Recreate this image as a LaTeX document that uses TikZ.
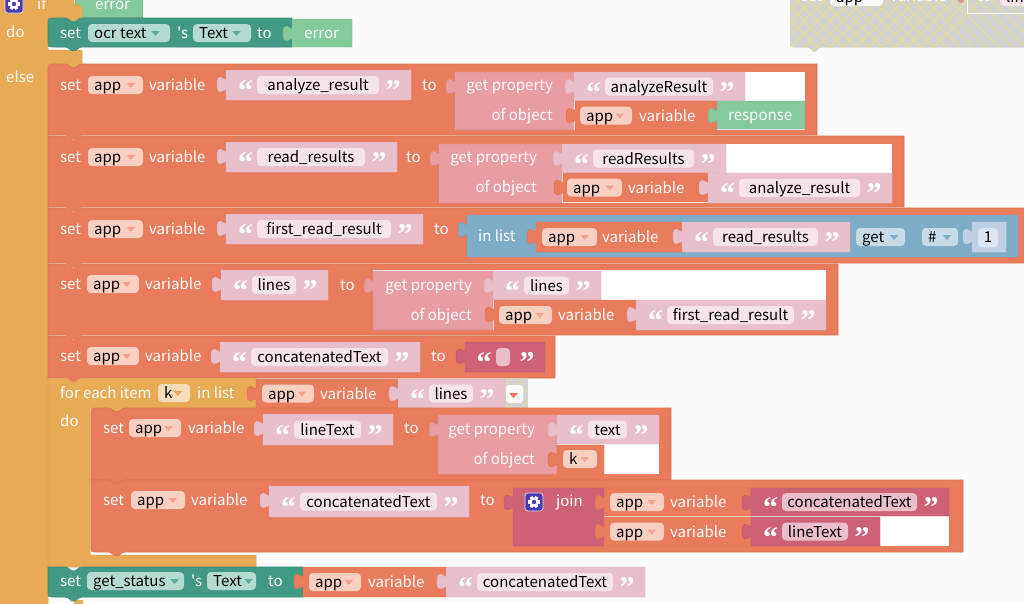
\documentclass[tikz,border=0pt]{standalone}
\usepackage{fontspec}
\newfontfamily\uif{Noto Sans CJK SC}
\newfontfamily\qf{Liberation Serif}
\definecolor{bgc}{HTML}{FBFBFB}
\definecolor{ctl}{HTML}{E8AA55}
\definecolor{ctle}{HTML}{DDA351}
\definecolor{ora}{HTML}{E97C5C}
\definecolor{orae}{HTML}{D9744F}
\definecolor{tea}{HTML}{429A84}
\definecolor{teae}{HTML}{3A8A76}
\definecolor{grn}{HTML}{85CA9C}
\definecolor{grne}{HTML}{76BA8C}
\definecolor{pro}{HTML}{E99CA2}
\definecolor{proe}{HTML}{D38C92}
\definecolor{stra}{HTML}{E9BFCB}
\definecolor{stre}{HTML}{DDB0BC}
\definecolor{strp}{HTML}{F6E4E9}
\definecolor{dkp}{HTML}{CD6277}
\definecolor{dkpe}{HTML}{B9586B}
\definecolor{dkq}{HTML}{EBBECB}
\definecolor{blu}{HTML}{7FADC7}
\definecolor{blue2}{HTML}{7299B2}
\definecolor{blp}{HTML}{C6DCE8}
\definecolor{num}{HTML}{BFD0E6}
\definecolor{nump}{HTML}{DDE5F1}
\definecolor{orp}{HTML}{F8CFC1}
\definecolor{ora2}{HTML}{F0A48E}
\definecolor{tep}{HTML}{B5DACF}
\definecolor{tea2}{HTML}{5EAE99}
\definecolor{kp}{HTML}{F7DDB9}
\definecolor{hgr}{HTML}{D2D2D2}
\definecolor{hye}{HTML}{E6E08C}
\definecolor{purp}{HTML}{4A3BB0}
\tikzset{
  lab/.style={font=\uif\fontsize{15}{18}\selectfont,text=white,inner sep=0pt,text height=13pt,text depth=2pt},
  blk/.style={font=\uif\fontsize{15}{18}\selectfont,text=black,inner sep=0pt,text height=13pt,text depth=2pt},
  qt/.style={font=\qf\bfseries\fontsize{30}{30}\selectfont,text=white,inner sep=0pt,anchor=base},
}
\newcounter{nn}
% white label, west / east anchored
\newcommand{\lb}[3]{\stepcounter{nn}\node[lab,anchor=west] (n\the\value{nn}) at (#1,#2) {#3};}
\newcommand{\rb}[3]{\stepcounter{nn}\node[lab,anchor=east] (n\the\value{nn}) at (#1,#2) {#3};}
% statement block: fill, edge, x1,y1,x2,y2, radius top, radius bottom
\newcommand{\stmt}[8]{\fill[#1,draw=#2,line width=.6pt]
  (#3,#4+#7) .. controls (#3,#4) .. (#3+#7,#4) -- (#3+17,#4)
  .. controls (#3+21,#4) and (#3+22,#4+4) .. (#3+25.5,#4+4)
  .. controls (#3+29,#4+4) and (#3+30,#4) .. (#3+34,#4)
  -- (#5,#4) -- (#5,#6) -- (#3+34,#6)
  .. controls (#3+30,#6) and (#3+29,#6+4) .. (#3+25.5,#6+4)
  .. controls (#3+22,#6+4) and (#3+21,#6) .. (#3+17,#6)
  -- (#3+#8,#6) .. controls (#3,#6) .. (#3,#6-#8) -- cycle;}
% value block with left tab: fill, edge, x1,y1,x2,y2
\newcommand{\val}[6]{\fill[#1,draw=#2,line width=.4pt]
  (#3,#4) -- (#5,#4) -- (#5,#6) -- (#3,#6) -- (#3,#4+19.5)
  .. controls (#3-2,#4+19.5) and (#3-3,#4+22) .. (#3-6,#4+22)
  .. controls (#3-8,#4+22) and (#3-9,#4+20) .. (#3-9,#4+15)
  .. controls (#3-9,#4+9) and (#3-8,#4+7) .. (#3-6,#4+7)
  .. controls (#3-3,#4+7) and (#3-2,#4+10) .. (#3,#4+10) -- cycle;}
% dropdown pill: [arrow inset], x1,x2,yc,text,bg,arrow
\newcommand{\dd}[7][12.2]{\fill[#6,rounded corners=4pt] (#2,#4-9) rectangle (#3,#4+9);
  \stepcounter{nn}\node[blk,anchor=west] (n\the\value{nn}) at (#2+6,#4) {#5};
  \fill[#7] (#3-#1-4.3,#4-2) -- (#3-#1+4.3,#4-2) -- (#3-#1,#4+3) -- cycle;}
% string block: x1,y1,x2,y2,fill,edge,pill,text
\newcommand{\strb}[8]{\val{#5}{#6}{#1}{#2}{#3}{#4}
  \fill[#7,rounded corners=4pt] (#1+31,{(#2+#4)/2-9}) rectangle (#3-32,{(#2+#4)/2+9});
  \stepcounter{nn}\node[blk] (n\the\value{nn}) at ({(#1+#3-1)/2},{(#2+#4)/2}) {#8};
  \stepcounter{nn}\node[qt] (n\the\value{nn}) at (#1+19.5,{(#2+#4)/2+15.5}) {“};
  \stepcounter{nn}\node[qt] (n\the\value{nn}) at (#3-18,{(#2+#4)/2+15.5}) {”};}
% app variable block: x1,y1,x2,y2,pill x1,pill x2,variable x
\newcommand{\appb}[7]{\val{ora}{orae}{#1}{#2}{#3}{#4}
  \pgfmathsetmacro\yc{(#2+#4)/2}
  \dd{#5}{#6}{\yc}{app}{orp}{ora2}
  \lb{#7}{\yc}{variable}}
% gear icon
\newcommand{\gear}[2]{\begin{scope}[shift={(#1,#2)}]
  \fill[purp,draw=white!80!purp,line width=.7pt,rounded corners=3pt] (-9,-9) rectangle (9,9);
  \foreach \a in {0,60,120}{\fill[white,rotate=\a] (-6,-1.6) rectangle (6,1.6);}
  \fill[white] (0,0) circle (4.6);
  \fill[purp] (0,0) circle (2.2);
\end{scope}}
% hatch lines for the area currently clipped
\newcommand{\hatchlines}[2]{\foreach \i in {#1,#2,...,1060}{
   \draw[hye,line width=.9pt] (\i,-70) -- (\i+500,430);
   \draw[hye,line width=.9pt] (\i,-70) -- (\i-500,430);}}
\begin{document}
\begin{tikzpicture}[x=1pt,y=-1pt]
\useasboundingbox (0,0) rectangle (1024,603);
\clip (0,0) rectangle (1024,603);
\fill[bgc] (0,0) rectangle (1024,603);

% disabled hatched block at the top right
\begin{scope}
 \clip (790,-5) -- (1030,-5) -- (1030,47.5) -- (822,47.5)
   .. controls (818,47.5) and (817,52) .. (814.5,52) .. controls (812,52) and (811,47.5) .. (807,47.5)
   -- (796,47.5) .. controls (790,47.5) .. (790,41) -- cycle;
 \fill[hgr] (780,-5) rectangle (1030,60);
 \hatchlines{700}{713}
\end{scope}
\lb{801}{-4}{set}
\dd{830}{883}{-3}{app}{white!85!hgr}{ora2}
\lb{890}{-4}{variable}
\fill[orae!60!hgr] (961,0) circle (3);
\draw[white,line width=.9pt] (967,-5) -- (967,13) -- (1030,13);
\stepcounter{nn}\node[qt] (n\the\value{nn}) at (984,12.5) {“};
\fill[strp,rounded corners=4pt] (1000,-12) rectangle (1040,6);
\stepcounter{nn}\node[blk,anchor=west] (n\the\value{nn}) at (1006,-3) {lineText};

% main control column
\fill[grn,draw=grne,line width=.4pt] (75,-5) rectangle (142,17);
\fill[ctl,draw=ctle,line width=.5pt] (-2,-5) -- (74,-5) -- (74,5)
   .. controls (78,4) and (82,5) .. (82,9) -- (82,18)
   .. controls (78,18) and (77,22) .. (73.5,22) .. controls (70,22) and (69,18) .. (65,18)
   -- (48,18) -- (48,50) -- (82,50) -- (82,64)
   .. controls (78,64) and (77,68) .. (73.5,68) .. controls (70,68) and (69,64) .. (65,64)
   -- (48,64) -- (48,606) -- (-2,606) -- cycle;
\fill[ctl] (74,600) rectangle (83,606);
\lb{95}{4}{error}
\gear{14}{4}
\lb{37}{4}{if}
\lb{6}{32}{do}
\lb{6}{77}{else}

% first branch
\stmt{tea}{teae}{48}{18}{292}{47}{6}{6}
\lb{60}{33}{set}
\dd[14.5]{88}{170}{33}{ocr text}{tep}{tea2}
\lb{177}{33}{'s}
\dd[14.5]{193}{251}{33}{Text}{tep}{tea2}
\lb{257}{33}{to}
\val{grn}{grne}{292}{19}{352}{47}
\lb{304}{33}{error}

% set analyze_result
\stmt{ora}{orae}{48}{64}{817}{135}{6}{0}
\fill[white] (455,72) rectangle (805,130);
\lb{60}{85}{set}
\dd{88}{143}{85}{app}{orp}{ora2}
\lb{149}{85}{variable}
\strb{226}{70}{411}{100}{stra}{stre}{strp}{analyze\_result}
\lb{422}{85}{to}
\val{pro}{proe}{455}{72}{574}{130}
\rb{553}{85}{get property}
\rb{553}{115}{of object}
\strb{574}{72}{745}{101}{stra}{stre}{strp}{analyzeResult}
\appb{575}{101}{717}{130}{580}{632}{639}
\val{grn}{grne}{717}{101}{805}{129}
\lb{728}{115}{response}

% set read_results
\stmt{ora}{orae}{48}{136}{904}{207}{0}{0}
\fill[white] (439,144) rectangle (892,203);
\lb{60}{157}{set}
\dd{88}{143}{157}{app}{orp}{ora2}
\lb{149}{157}{variable}
\strb{226}{142}{397}{172}{stra}{stre}{strp}{read\_results}
\lb{406}{157}{to}
\val{pro}{proe}{439}{144}{562}{203}
\rb{537}{157}{get property}
\rb{537}{187}{of object}
\strb{562}{144}{726}{173}{stra}{stre}{strp}{readResults}
\appb{563}{173}{708}{202}{567}{622}{628}
\strb{708}{173}{892}{203}{stra}{stre}{strp}{analyze\_result}

% set first_read_result
\stmt{ora}{orae}{48}{208}{1030}{263}{0}{0}
\lb{60}{229}{set}
\dd{88}{143}{229}{app}{orp}{ora2}
\lb{149}{229}{variable}
\strb{226}{214}{423}{244}{stra}{stre}{strp}{first\_read\_result}
\lb{434}{229}{to}
\val{blu}{blue2}{467}{215}{1018}{257}
\lb{478}{236}{in list}
\appb{536}{222}{682}{252}{542}{597}{602}
\strb{682}{222}{850}{252}{stra}{stre}{strp}{read\_results}
\dd[11]{856}{905}{237}{get}{blp}{blu}
\dd[11]{922}{958}{237}{\#}{blp}{blu}
\val{num}{num}{972}{222}{1006}{252}
\fill[nump,rounded corners=4pt] (978,228) rectangle (998,247);
\stepcounter{nn}\node[blk] (n\the\value{nn}) at (988,237) {1};

% set lines
\stmt{ora}{orae}{48}{264}{838}{335}{0}{0}
\fill[white] (373,270) rectangle (826,330);
\lb{60}{284}{set}
\dd{87}{139}{284}{app}{orp}{ora2}
\lb{145}{284}{variable}
\strb{221}{270}{328}{300}{stra}{stre}{strp}{lines}
\lb{340}{285}{to}
\val{pro}{proe}{373}{271}{493}{330}
\rb{472}{285}{get property}
\rb{472}{315}{of object}
\strb{493}{271}{601}{300}{stra}{stre}{strp}{lines}
\appb{494}{300}{636}{330}{499}{552}{558}
\strb{636}{300}{826}{330}{stra}{stre}{strp}{first\_read\_result}

% set concatenatedText
\stmt{ora}{orae}{48}{336}{555}{378}{0}{0}
\lb{60}{356}{set}
\dd{87}{139}{356}{app}{orp}{ora2}
\lb{145}{356}{variable}
\strb{220}{342}{420}{372}{stra}{stre}{strp}{concatenatedText}
\lb{431}{356}{to}
\val{dkp}{dkpe}{465}{342}{545}{372}
\fill[dkq,rounded corners=4pt] (496,348) rectangle (510,366);
\stepcounter{nn}\node[qt] (n\the\value{nn}) at (484,372.5) {“};
\stepcounter{nn}\node[qt] (n\the\value{nn}) at (527,372.5) {”};

% for each item
\fill[ctl,draw=ctle,line width=.5pt] (48,378) -- (65,378)
   .. controls (69,378) and (70,382) .. (73.5,382) .. controls (77,382) and (78,378) .. (82,378)
   -- (256,378) -- (256,408) -- (125,408)
   .. controls (121,408) and (120,412) .. (116.5,412) .. controls (113,412) and (112,408) .. (108,408)
   -- (90,408) -- (90,555) -- (256,555) -- (256,567) -- (48,567) -- cycle;
\lb{60}{393}{for each item}
\dd{158}{190}{393}{k}{kp}{ctl}
\lb{197}{393}{in list}
\lb{60}{421}{do}
\appb{256}{379}{398}{408}{262}{314}{320}
\strb{398}{379}{505}{408}{stra}{stre}{strp}{lines}
\begin{scope}
 \clip (505,379) rectangle (528,408);
 \fill[hgr] (505,379) rectangle (528,408);
 \hatchlines{700}{713}
\end{scope}
\fill[white!88!hgr,rounded corners=3pt] (506,385) rectangle (523,403);
\fill[ora] (509,393) -- (518,393) -- (513.5,398) -- cycle;

% inner: set lineText
\stmt{ora}{orae}{91}{408}{671}{480}{6}{0}
\fill[white] (438,415) rectangle (659,474);
\lb{103}{428}{set}
\dd{129}{181}{428}{app}{orp}{ora2}
\lb{188}{428}{variable}
\strb{263}{414}{393}{445}{stra}{stre}{strp}{lineText}
\lb{404}{428}{to}
\val{pro}{proe}{438}{415}{557}{474}
\rb{535}{429}{get property}
\rb{535}{459}{of object}
\strb{557}{415}{659}{444}{stra}{stre}{strp}{text}
\val{ora}{orae}{557}{445}{604}{474}
\dd{563}{597}{459}{k}{orp}{ora2}

% inner: set concatenatedText to join
\stmt{ora}{orae}{91}{480}{963}{552}{0}{6}
\fill[white] (513,488) rectangle (949,546);
\lb{103}{500}{set}
\dd{131}{185}{500}{app}{orp}{ora2}
\lb{191}{500}{variable}
\strb{269}{486}{469}{517}{stra}{stre}{strp}{concatenatedText}
\lb{480}{500}{to}
\val{dkp}{dkpe}{513}{488}{604}{546}
\gear{534}{502}
\lb{556}{501}{join}
\appb{604}{488}{751}{516}{610}{664}{670}
\strb{751}{488}{949}{516}{dkp}{dkpe}{dkq}{concatenatedText}
\appb{604}{517}{751}{546}{610}{664}{670}
\strb{751}{517}{880}{546}{dkp}{dkpe}{dkq}{lineText}

% set get_status
\stmt{tea}{teae}{48}{567}{303}{597}{0}{6}
\lb{60}{581}{set}
\dd[9.5]{87}{184}{581}{get\_status}{tep}{tea2}
\lb{191}{581}{'s}
\dd[7.5]{207}{256}{581}{Text}{tep}{tea2}
\lb{268}{581}{to}
\appb{303}{567}{446}{597}{309}{361}{368}
\strb{446}{567}{645}{597}{stra}{stre}{strp}{concatenatedText}
\end{tikzpicture}
\end{document}
